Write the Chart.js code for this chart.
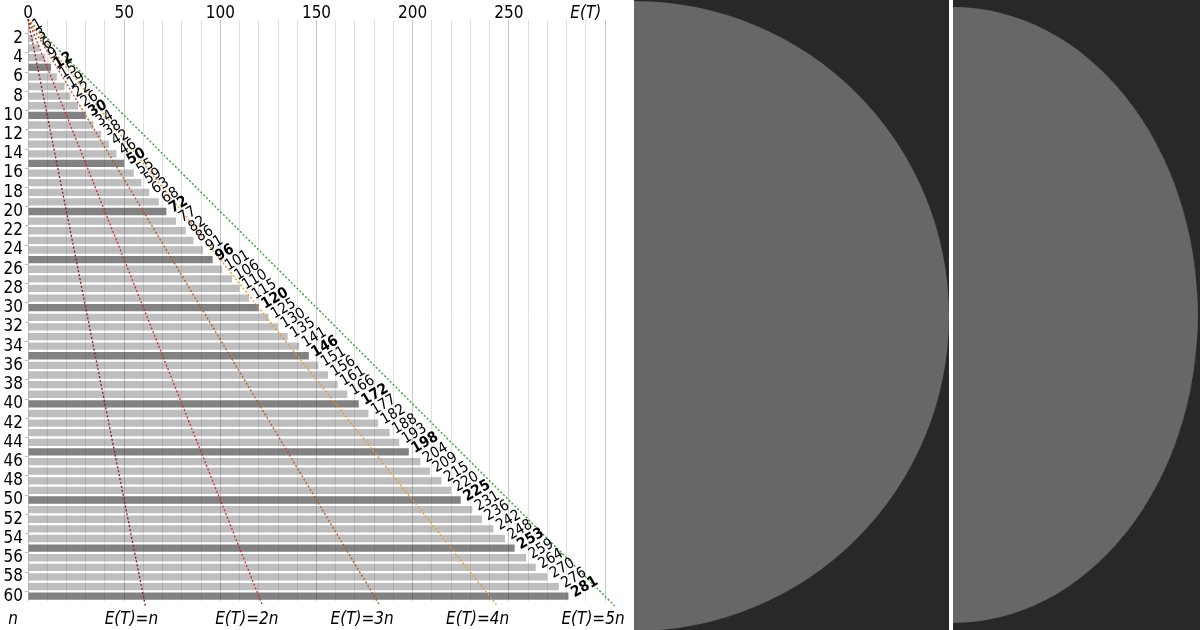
<!DOCTYPE html>
<html>
<head>
<meta charset="utf-8">
<script src="https://cdn.jsdelivr.net/npm/chart.js@4.4.1/dist/chart.umd.min.js"></script>
<style>
  body { margin: 0; background: #fff; }
  #wrap { position: relative; width: 1200px; height: 630px; overflow: hidden; }
  .panel { position: absolute; top: 0; height: 630px; overflow: hidden; background: #282828; }
  canvas { display: block; }
</style>
</head>
<body>
<div id="wrap">
  <div style="position:absolute;left:0;top:0;width:633px;height:630px">
    <canvas id="main" width="633" height="630"></canvas>
  </div>
  <div class="panel" style="left:634px;width:315px">
    <canvas id="disc1" width="630" height="630" style="position:absolute;left:-315px;top:1px"></canvas>
  </div>
  <div class="panel" style="left:953px;width:247px">
    <canvas id="disc2" width="616" height="616" style="position:absolute;left:-245px;top:7px;transform:scaleX(0.795);transform-origin:0 0"></canvas>
  </div>
</div>
<script>
// n = number of coupons, E(T) = expected draws (rounded up, as labelled)
var nLabels = ['1','2','3','4','5','6','7','8','9','10',
    '11','12','13','14','15','16','17','18','19','20',
    '21','22','23','24','25','26','27','28','29','30',
    '31','32','33','34','35','36','37','38','39','40',
    '41','42','43','44','45','46','47','48','49','50',
    '51','52','53','54','55','56','57','58','59','60'];
var expectedDraws = [1, 3, 6, 9, 12, 15, 19, 22, 26, 30,
    34, 38, 42, 46, 50, 55, 59, 63, 68, 72,
    77, 82, 86, 91, 96, 101, 106, 110, 115, 120,
    125, 130, 135, 141, 146, 151, 156, 161, 166, 172,
    177, 182, 188, 193, 198, 204, 209, 215, 220, 225,
    231, 236, 242, 248, 253, 259, 264, 270, 276, 281];

// guide lines E(T)=kn, drawn from n=0 to n=61
var guideNames = ['E(T)=n', 'E(T)=2n', 'E(T)=3n', 'E(T)=4n', 'E(T)=5n'];
var guideStart = [0, 0, 0, 0, 0];
var guideEnd = [61, 122, 183, 244, 305];
var guideN = [0, 61];
var guideColors = ['#8b1a1a', '#cc2a2a', '#b5562a', '#e39a3a', '#2e9a2e'];

// bottom axis labels
var bottomTicks = [-1.5, 60, 120, 180, 240, 300];
var bottomLabels = ['n', 'E(T)=n', 'E(T)=2n', 'E(T)=3n', 'E(T)=4n', 'E(T)=5n'];

var discShares = [1, 1];

var FONT = '"DejaVu Sans Condensed", "DejaVu Sans", sans-serif';

function isFifth(i) {
    return (i + 1) % 5 === 0;
}

function noPad(s) {
    s.paddingLeft = 0;
    s.paddingRight = 0;
    s.paddingTop = 0;
    s.paddingBottom = 0;
}

// E(T) value written at the end of each bar
var valueLabels = {
    id: 'valueLabels',
    afterDatasetsDraw: function (chart) {
        var ctx = chart.ctx;
        var meta = chart.getDatasetMeta(guideNames.length);
        meta.data.forEach(function (bar, i) {
            ctx.save();
            ctx.translate(bar.x + 4, bar.y - 2);
            ctx.rotate(-30 * Math.PI / 180);
            ctx.font = (isFifth(i) ? 'bold ' : '') + '15px ' + FONT;
            ctx.fillStyle = '#000';
            ctx.textAlign = 'left';
            ctx.textBaseline = 'middle';
            ctx.fillText(String(expectedDraws[i]), 0, 0);
            ctx.restore();
        });
    }
};

var datasets = [];
guideNames.forEach(function (name, k) {
    datasets.push({
        type: 'line',
        label: name,
        data: [{x: guideStart[k], y: guideN[0]}, {x: guideEnd[k], y: guideN[1]}],
        xAxisID: 'x',
        yAxisID: 'y2',
        indexAxis: 'y',
        borderColor: guideColors[k],
        borderWidth: 1.3,
        borderDash: [2, 2],
        pointRadius: 0,
        fill: false,
        clip: false,
        order: 1
    });
});
datasets.push({
    type: 'bar',
    label: 'E(T)',
    data: expectedDraws,
    xAxisID: 'x',
    yAxisID: 'y',
    backgroundColor: function (c) {
        return isFifth(c.dataIndex) ? 'rgba(60,60,60,0.64)' : 'rgba(100,100,100,0.42)';
    },
    grouped: false,
    barPercentage: 0.76,
    categoryPercentage: 1,
    order: 2
});

new Chart(document.getElementById('main'), {
    type: 'bar',
    data: {labels: nLabels, datasets: datasets},
    options: {
        indexAxis: 'y',
        responsive: false,
        animation: false,
        devicePixelRatio: 1,
        layout: {padding: {left: 0, right: 28, top: 0, bottom: 0}},
        plugins: {legend: {display: false}, tooltip: {enabled: false}},
        scales: {
            x: {
                type: 'linear',
                position: 'top',
                min: 0,
                max: 300,
                ticks: {
                    stepSize: 10,
                    autoSkip: false,
                    maxRotation: 0,
                    padding: -4,
                    color: '#000',
                    font: function (c) {
                        return {family: FONT, size: 17, style: (c.tick && c.tick.value === 290) ? 'italic' : 'normal'};
                    },
                    callback: function (v) {
                        if (v === 290) return 'E(T)';
                        if (v % 50 === 0 && v <= 250) return String(v);
                        return '';
                    }
                },
                grid: {
                    color: function (c) {
                        return (c.tick && c.tick.value % 50 === 0) ? '#c6c6c6' : '#e0e0e0';
                    },
                    tickLength: 4
                },
                border: {display: false},
                afterFit: function (s) { s.height = 24; noPad(s); }
            },
            x2: {
                type: 'linear',
                position: 'bottom',
                min: 0,
                max: 300,
                grid: {display: false},
                border: {display: false},
                afterBuildTicks: function (s) {
                    s.ticks = bottomTicks.map(function (v) { return {value: v}; });
                },
                ticks: {
                    autoSkip: false,
                    maxRotation: 0,
                    labelOffset: -12,
                    padding: 0,
                    color: '#000',
                    font: {family: FONT, size: 17, style: 'italic'},
                    callback: function (v, i) { return bottomLabels[i]; }
                },
                afterFit: function (s) { s.height = 29; noPad(s); }
            },
            y: {
                type: 'category',
                position: 'left',
                offset: true,
                ticks: {
                    autoSkip: false,
                    padding: 2,
                    color: '#000',
                    font: {family: FONT, size: 17},
                    callback: function (v, i) { return i % 2 === 1 ? nLabels[i] : ''; }
                },
                grid: {
                    drawOnChartArea: false,
                    tickLength: 3,
                    color: function (c) { return c.index % 2 === 1 ? '#bbbbbb' : 'rgba(0,0,0,0)'; }
                },
                border: {display: false},
                afterFit: function (s) { s.width = 28; noPad(s); }
            },
            y2: {
                type: 'linear',
                display: false,
                offset: false,
                grid: {offset: false},
                min: 0.5,
                max: 60.5,
                reverse: true
            }
        }
    },
    plugins: [valueLabels]
});

function disc(id) {
    new Chart(document.getElementById(id), {
        type: 'pie',
        data: {
            labels: ['disc', ''],
            datasets: [{
                data: discShares,
                backgroundColor: ['#676767', 'rgba(0,0,0,0)'],
                borderWidth: 0
            }]
        },
        options: {
            responsive: false,
            animation: false,
            devicePixelRatio: 1,
            rotation: 0,
            layout: {padding: 0},
            plugins: {legend: {display: false}, tooltip: {enabled: false}}
        }
    });
}
disc('disc1');
disc('disc2');
</script>
</body>
</html>
